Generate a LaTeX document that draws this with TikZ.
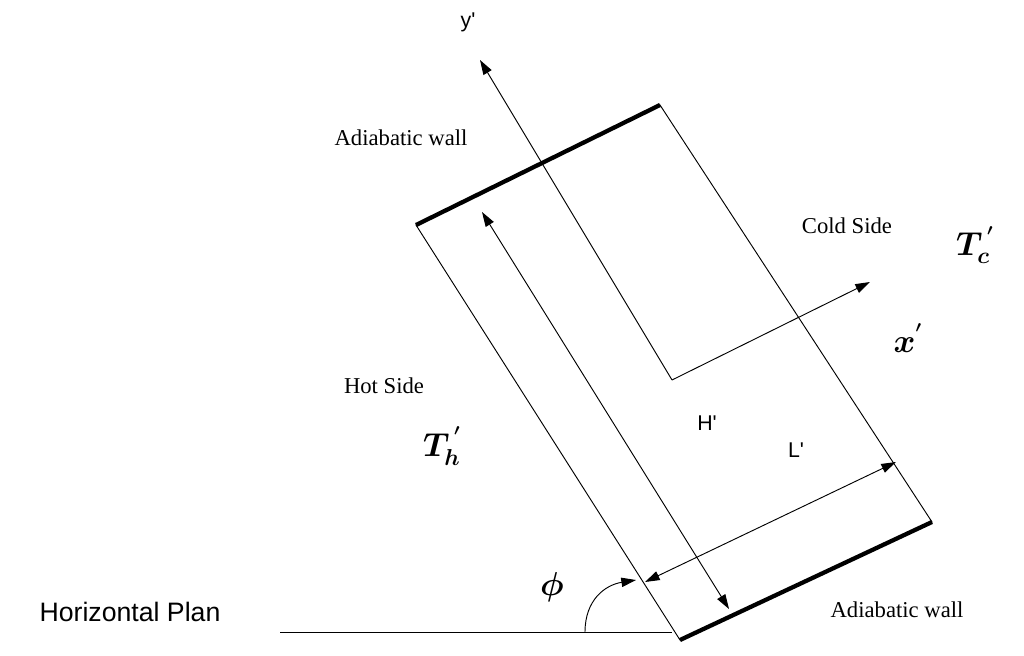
\documentclass[tikz,border=0pt]{standalone}
\usepackage{amsmath,bm}
\usepackage{fontspec}
\setmainfont{Liberation Serif}
\newfontfamily\lsans{Liberation Sans}
\usetikzlibrary{arrows.meta}
\begin{document}
\begin{tikzpicture}[x=0.75pt,y=-0.75pt,
  ln/.style={line width=0.7pt},
  ar/.style={ln,-{Triangle[length=11pt,width=7pt]}},
  dar/.style={ln,{Triangle[length=11pt,width=7pt]}-{Triangle[length=11pt,width=7pt]}},
  wall/.style={line width=3.2pt},
  lbl/.style={font=\fontsize{17}{20}\selectfont},
  slbl/.style={font=\lsans\fontsize{16}{19}\selectfont},
  tl/.style={font=\bfseries\itshape\fontsize{26}{28}\selectfont}]
\useasboundingbox (0,0) rectangle (1024,656);
\coordinate (A) at (416,225);
\coordinate (B) at (660,105);
\coordinate (C) at (932,522);
\coordinate (D) at (680,640);
\coordinate (O) at (672,380);
\coordinate (Y) at (480,60);
\coordinate (X) at (870,282);
\coordinate (H1) at (482,212);
\coordinate (H2) at (729,609);
\coordinate (L1) at (645,582);
\coordinate (L2) at (896,462);
\coordinate (P1) at (280,632);
\coordinate (P2) at (672,632);
\coordinate (G1) at (585,632);
\coordinate (G2) at (636,580);
\draw[ln] (A) -- (B) -- (C) -- (D) -- cycle;
\draw[wall] (A) -- (B);
\draw[wall] (D) -- (C);
\draw[ar] (O) -- (Y);
\draw[ar] (O) -- (X);
\draw[dar] (H1) -- (H2);
\draw[dar] (L1) -- (L2);
\draw[ln] (P1) -- (P2);
\draw[ar] (G1) .. controls (585,600) and (605,585) .. (G2);
\node[slbl] (ty) at (468,22) {y'};
\node[lbl] (aw1) at (401,138) {Adiabatic wall};
\node[lbl] (cs) at (847,226) {Cold Side};
\node[tl] (tc) at (975,245) {$\bm{T_c^{\,'}}$};
\node[tl] (tx) at (908,338) {$\bm{x^{'}}$};
\node[lbl] (hs) at (384,386) {Hot Side};
\node[tl] (th) at (442,446) {$\bm{T_h^{\,'}}$};
\node[slbl] (th2) at (707,423) {H'};
\node[slbl] (tl2) at (796,450) {L'};
\node[tl] (phi) at (552,587) {$\bm{\phi}$};
\node[font=\lsans\fontsize{20}{23}\selectfont] (hp) at (130,612) {Horizontal Plan};
\node[lbl] (aw2) at (897,610) {Adiabatic wall};
\end{tikzpicture}
\end{document}
